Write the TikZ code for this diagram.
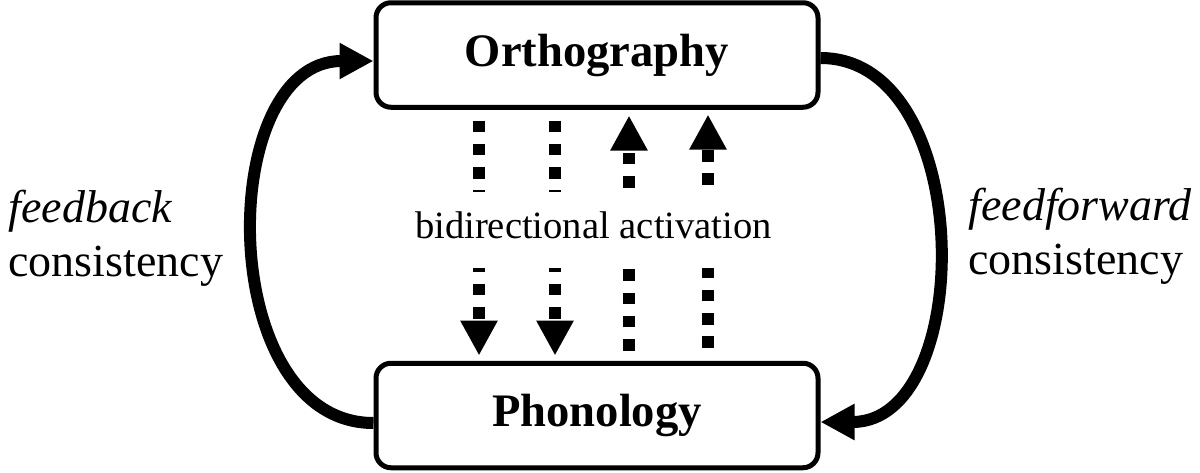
\documentclass[tikz,border=0pt]{standalone}
\usepackage{fontspec}
\setmainfont{Liberation Serif}
\usetikzlibrary{arrows.meta}
\begin{document}
\begin{tikzpicture}[x=0.5pt, y=-0.5pt]
            \tikzset{box/.style={draw, line width=2.5pt, rounded corners=7.5pt, minimum width=221pt, minimum height=52.25pt, font=\fontsize{23.3}{27}\selectfont\bfseries}}
            \tikzset{consistency/.style={line width=6pt, -{Triangle[length=17pt, width=17pt]}}}
            \tikzset{activation/.style={line width=6pt, dash pattern=on 5.8pt off 5.85pt, -{Triangle[length=17.5pt, width=17.5pt]}}}
            \tikzset{side/.style={inner sep=0pt, align=left, anchor=west, font=\fontsize{23}{27}\selectfont}}
            \useasboundingbox (0, 0) rectangle (1200, 472);
            \node [box] (ortho) at (597, 55) {Orthography};
            \node [box] (phono) at (597, 415.5) {Phonology};
            \draw [consistency] ([yshift=-3.75pt]phono.west) .. controls +(-159, 0) and +(-159, 0) .. ([yshift=-3pt]ortho.west);
            \draw [consistency] ([yshift=-1.5pt]ortho.east) .. controls +(156, 0) and +(156, 0) .. ([yshift=-3.25pt]phono.east);
            \draw [activation, shorten <=5.4pt, shorten >=2.6pt] ([xshift=-59pt]ortho.south) -- ([xshift=-59pt]phono.north);
            \draw [activation, shorten <=5.4pt, shorten >=2.6pt] ([xshift=-21pt]ortho.south) -- ([xshift=-21pt]phono.north);
            \draw [activation, shorten <=5pt, shorten >=2.9pt] ([xshift=16pt]phono.north) -- ([xshift=16pt]ortho.south);
            \draw [activation, shorten <=6.4pt, shorten >=2.4pt] ([xshift=55.5pt]phono.north) -- ([xshift=55.5pt]ortho.south);
            \node [fill=white, inner xsep=3pt, inner ysep=0pt, text height=23pt, text depth=15pt, anchor=base, font=\fontsize{19.3}{23}\selectfont] (bidir) at (593.5, 238) {bidirectional activation};
            \node [side] (feedback) at (8, 238) {\textit{feedback}\\consistency};
            \node [side] (feedforward) at (968, 236) {\textit{feedforward}\\consistency};
\end{tikzpicture}
\end{document}
